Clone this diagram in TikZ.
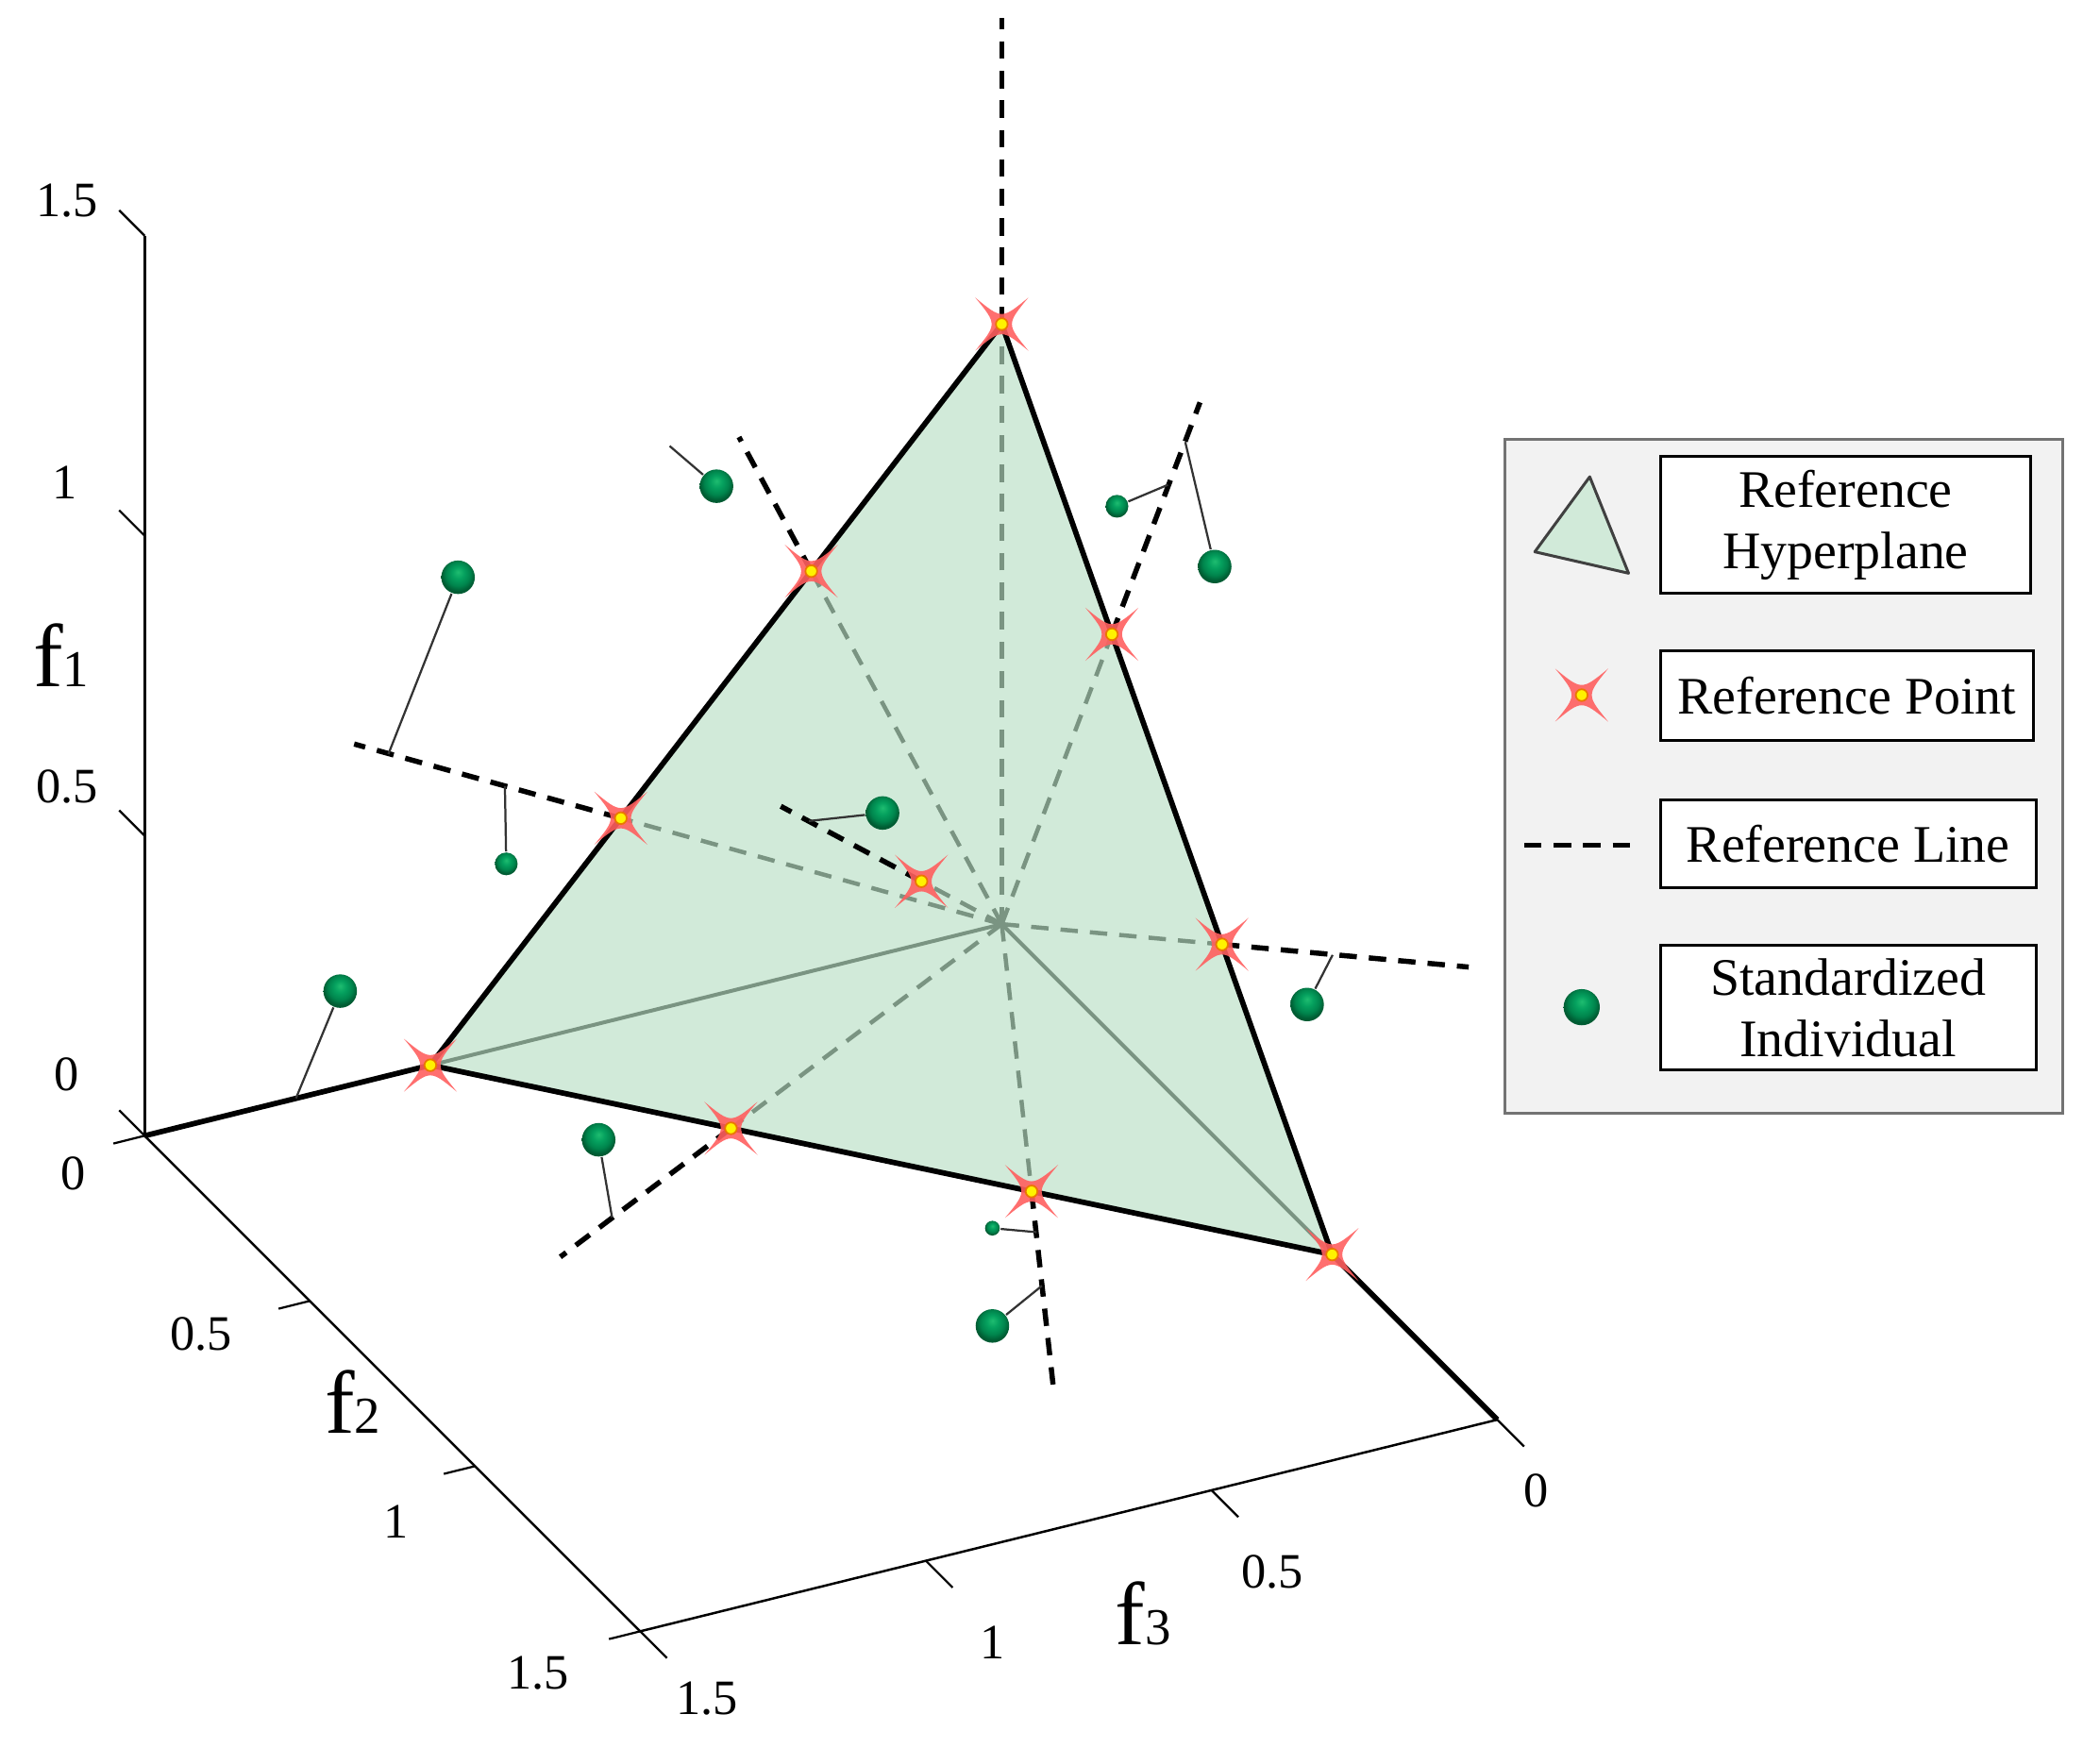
\documentclass[tikz,border=0pt]{standalone}
\usepackage{fontspec}
\setmainfont{Liberation Serif}
\definecolor{planegreen}{RGB}{209,234,217}
\definecolor{hidgray}{RGB}{122,148,130}
\definecolor{starred}{RGB}{255,95,95}
\definecolor{legbg}{RGB}{242,242,242}
\pgfdeclareradialshading{gball}{\pgfpoint{0bp}{8bp}}{rgb(0bp)=(0.12,0.74,0.44); rgb(9bp)=(0.02,0.63,0.37); rgb(18bp)=(0.0,0.52,0.30); rgb(25bp)=(0.0,0.36,0.20); rgb(50bp)=(0.0,0.36,0.20)}
\newcommand\defpt[4]{\coordinate (#1) at ({748+246.667*(#3)-426.667*(#4)},{690-448*(#2)+246.667*(#3)+105.333*(#4)});}
\begin{document}
\begin{tikzpicture}[x=0.01cm,y=-0.01cm,
  refline/.style={line width=1.1pt, dash pattern=on 1.3mm off 0.9mm},
  hidref/.style={hidgray, line width=0.9pt, dash pattern=on 1.3mm off 0.9mm},
  hidedge/.style={hidgray, line width=0.8pt},
  triedge/.style={line width=1.15pt, line join=round},
  axisline/.style={line width=0.5pt},
  tickmark/.style={line width=0.45pt},
  ticklab/.style={font=\fontsize{10.5}{12}\selectfont, inner sep=0pt},
  axlab/.style={inner sep=0pt, anchor=base west},
  indiv/.style={circle, shading=gball, inner sep=0pt, minimum size=#1},
  dist/.style={black!80, line width=0.45pt},
  legbox/.style={draw=black, line width=0.6pt, fill=white, align=center, font=\fontsize{11.2}{13.1}\selectfont, inner sep=0pt},
  refpt/.pic={
    \fill[starred, opacity=0.9] (45:28) .. controls (0:3.5) .. (-45:28)
      .. controls (-90:3.5) .. (-135:28)
      .. controls (180:3.5) .. (135:28)
      .. controls (90:3.5) .. cycle;
    \filldraw[fill=yellow, draw={rgb,255:red,235;green,120;blue,0}, line width=0.35pt] (0,0) circle (4.4);
  }]
\useasboundingbox (0,0) rectangle (1568,1305);

% --- coordinates
\defpt{O}{0}{0}{0}
\defpt{A}{0}{0}{1.5}
\defpt{B}{0}{1.5}{1.5}
\defpt{D}{0}{1.5}{0}
\defpt{Z}{1.5}{0}{1.5}
\defpt{r1}{1}{0}{0}
\defpt{r2}{0}{1}{0}
\defpt{r3}{0}{0}{1}
\defpt{r4}{2/3}{1/3}{0}
\defpt{r5}{2/3}{0}{1/3}
\defpt{r6}{1/3}{2/3}{0}
\defpt{r7}{1/3}{0}{2/3}
\defpt{r8}{0}{2/3}{1/3}
\defpt{r9}{0}{1/3}{2/3}
\defpt{r10}{1/3}{1/3}{1/3}
\defpt{e1}{1.51}{0}{0}
\defpt{e4}{1.8*2/3}{1.8/3}{0}
\defpt{e5}{1.38*2/3}{0}{1.38/3}
\defpt{e6}{2.12/3}{2.12*2/3}{0}
\defpt{e7}{1.7/3}{0}{1.7*2/3}
\defpt{e8}{0}{1.74*2/3}{1.74/3}
\defpt{e9}{0}{1.63/3}{1.63*2/3}
\defpt{e10}{2.75/3}{2.75/3}{2.75/3}

% --- axes
\draw[axisline, line width=0.7pt] (A) -- (Z);
\draw[axisline] (A) -- (B) -- (D);
\foreach \v in {0,0.5,1,1.5} {
  \defpt{ta}{\v}{0}{1.5}
  \defpt{tb}{0}{\v}{1.5}
  \defpt{tc}{0}{1.5}{\v}
  \draw[tickmark] (ta) -- ++(-19,-19);
  \draw[tickmark] (tb) -- ++(-23.3,5.8);
  \draw[tickmark] (tc) -- ++(20,20);
}
\node[ticklab] (z15) at (50,150) {1.5};
\node[ticklab] (z10) at (48,360) {1};
\node[ticklab] (z05) at (50,587) {0.5};
\node[ticklab] (z00) at (50,802) {0};
\node[ticklab] (y00) at (55,876) {0};
\node[ticklab] (y05) at (150,996) {0.5};
\node[ticklab] (y10) at (296,1136) {1};
\node[ticklab] (y15) at (402,1249) {1.5};
\node[ticklab] (x15) at (528,1268) {1.5};
\node[ticklab] (x10) at (741,1226) {1};
\node[ticklab] (x05) at (950,1174) {0.5};
\node[ticklab] (x00) at (1147,1113) {0};
\node[axlab] (lf1) at (24,513) {{\fontsize{19}{19}\selectfont f}{\fontsize{11}{11}\selectfont 1}};
\node[axlab] (lf2) at (242,1070) {{\fontsize{19}{19}\selectfont f}{\fontsize{11}{11}\selectfont 2}};
\node[axlab] (lf3) at (832,1228) {{\fontsize{19}{19}\selectfont f}{\fontsize{11}{11}\selectfont 3}};

% --- hyperplane
\fill[planegreen] (r1) -- (r2) -- (r3) -- cycle;
\draw[hidedge] (O) -- (r2);
\draw[hidedge] (O) -- (r3);
\foreach \r in {r1,r4,r5,r6,r7,r8,r9,r10} \draw[hidref] (O) -- (\r);
\draw[triedge] (r1) -- (r2) -- (r3) -- cycle;
\draw[triedge] (A) -- (r3);
\draw[triedge] (r2) -- (D);

% --- reference lines
\draw[refline] (r1) -- (e1);
\draw[refline] (r4) -- (e4);
\draw[refline] (r5) -- (e5);
\draw[refline] (r6) -- (e6);
\draw[refline] (r7) -- (e7);
\draw[refline] (r8) -- (e8);
\draw[refline] (r9) -- (e9);
\draw[refline] (r10) -- (e10);

% --- individuals
\coordinate (p1) at (290,563);
\coordinate (p2) at (377,587);
\coordinate (p3) at (221,820);
\coordinate (p4) at (500,333);
\coordinate (p5) at (604,613);
\coordinate (p6) at (457,909);
\coordinate (p7) at (774,920);
\coordinate (p8) at (778,960);
\coordinate (p9) at (995,713);
\coordinate (p10) at (885,330);
\coordinate (p11) at (872,362);
\node[indiv=0.25cm] (s1) at (342,431) {};
\node[indiv=0.17cm] (s2) at (378,645) {};
\node[indiv=0.25cm] (s3) at (254,740) {};
\node[indiv=0.25cm] (s4) at (535,363) {};
\node[indiv=0.25cm] (s5) at (659,607) {};
\node[indiv=0.25cm] (s6) at (447,851) {};
\node[indiv=0.11cm] (s7) at (741,917) {};
\node[indiv=0.25cm] (s8) at (741,990) {};
\node[indiv=0.25cm] (s9) at (976,750) {};
\node[indiv=0.25cm] (s10) at (907,423) {};
\node[indiv=0.17cm] (s11) at (834,378) {};
\draw[dist] (s1) -- (p1);
\draw[dist] (s2) -- (p2);
\draw[dist] (s3) -- (p3);
\draw[dist] (s4) -- (p4);
\draw[dist] (s5) -- (p5);
\draw[dist] (s6) -- (p6);
\draw[dist] (s7) -- (p7);
\draw[dist] (s8) -- (p8);
\draw[dist] (s9) -- (p9);
\draw[dist] (s10) -- (p10);
\draw[dist] (s11) -- (p11);

% --- reference points
\foreach \r in {r1,r2,r3,r4,r5,r6,r7,r8,r9,r10} \pic at (\r) {refpt};

% --- legend
\draw[draw=black!55, fill=legbg, line width=0.6pt] (1124,328) rectangle (1540,831);
\node[legbox, minimum width=2.76cm, minimum height=1.02cm] (lb1) at (1378,392) {Reference\\Hyperplane};
\node[legbox, minimum width=2.78cm, minimum height=0.67cm] (lb2) at (1379,519.5) {Reference Point};
\node[legbox, minimum width=2.80cm, minimum height=0.66cm] (lb3) at (1380,630) {Reference Line};
\node[legbox, minimum width=2.80cm, minimum height=0.93cm] (lb4) at (1380,752.5) {Standardized\\Individual};
\filldraw[fill=planegreen, draw=black!75, line width=0.6pt, line join=round] (1146,412) -- (1187,356) -- (1216,428) -- cycle;
\pic at (1181,519) {refpt};
\coordinate (ll1) at (1138,631);
\coordinate (ll2) at (1222,631);
\draw[refline] (ll1) -- (ll2);
\node[indiv=0.27cm] (ls) at (1181,752) {};
\end{tikzpicture}
\end{document}
